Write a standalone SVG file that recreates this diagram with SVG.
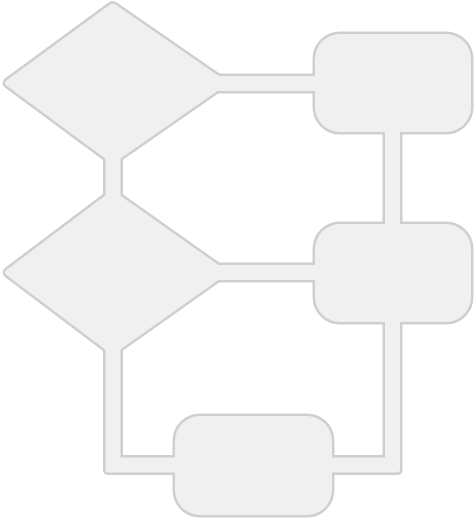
<svg xmlns="http://www.w3.org/2000/svg" xmlns:xlink="http://www.w3.org/1999/xlink" width="474" height="518" viewBox="0 0 474 518">
<style>
.outline { fill: #f0f0f0; stroke: #cfcfcf; stroke-width: 5; stroke-linejoin: round; }
.fillpass { fill: #f0f0f0; stroke: none; }
</style>
<rect width="474" height="518" fill="#ffffff"/>
<g id="connectors" class="outline">
  <rect id="c1" x="200" y="76" width="125" height="15"/>
  <rect id="c2" x="385" y="120" width="15" height="115"/>
  <rect id="c3" x="200" y="265" width="125" height="15"/>
  <rect id="c4" x="105.5" y="150" width="15" height="55"/>
  <path id="c5" d="M105.5 340 L120.5 340 L120.5 457.5 L185 457.5 L185 472.5 L108.5 472.5 Q105.5 472.5 105.5 469.5 Z"/>
  <path id="c6" d="M385 310 L400 310 L400 469.5 Q400 472.5 397 472.5 L320 472.5 L320 457.5 L385 457.5 Z"/>
</g>
<g id="decision1" class="outline">
  <path id="d1" d="M7 80 L109.3 4.9 Q112.5 2.5 115.8 4.8 L229 83 L112.5 164 L7 86 Q3 83 7 80 Z"/>
</g>
<g id="decision2" class="outline">
  <path id="d2" d="M7 269.5 L112.5 190 L229 272.5 L112.5 355 L7 275.5 Q3 272.5 7 269.5 Z"/>
</g>
<g id="process1" class="outline">
  <rect id="p1" x="315" y="34" width="156" height="98" rx="25"/>
</g>
<g id="process2" class="outline">
  <rect id="p2" x="315" y="224" width="156" height="98" rx="25"/>
</g>
<g id="process3" class="outline">
  <rect id="p3" x="175" y="416" width="157" height="99" rx="25"/>
</g>
<g id="fills" class="fillpass">
  <use xlink:href="#c1"/>
  <use xlink:href="#c2"/>
  <use xlink:href="#c3"/>
  <use xlink:href="#c4"/>
  <use xlink:href="#c5"/>
  <use xlink:href="#c6"/>
  <use xlink:href="#d1"/>
  <use xlink:href="#d2"/>
  <use xlink:href="#p1"/>
  <use xlink:href="#p2"/>
  <use xlink:href="#p3"/>
</g>
</svg>
